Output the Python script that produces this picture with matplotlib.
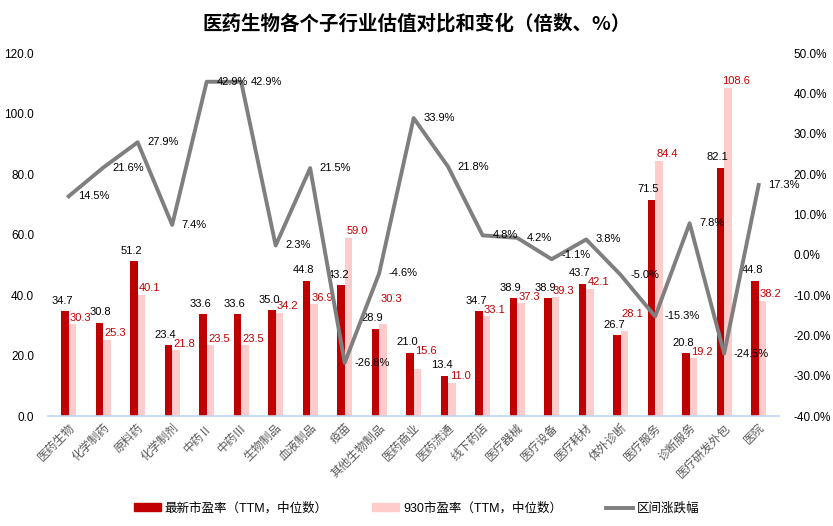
import numpy as np
import matplotlib
matplotlib.use("Agg")
import matplotlib.pyplot as plt
from matplotlib.patches import Patch
from matplotlib.lines import Line2D
from matplotlib.ticker import FuncFormatter

plt.rcParams['font.family'] = ['Liberation Sans', 'Noto Sans CJK SC', 'DejaVu Sans']

# data
categories = ['医药生物', '化学制药', '原料药', '化学制剂', '中药Ⅱ', '中药Ⅲ', '生物制品',
              '血液制品', '疫苗', '其他生物制品', '医药商业', '医药流通', '线下药店',
              '医疗器械', '医疗设备', '医疗耗材', '体外诊断', '医疗服务', '诊断服务',
              '医疗研发外包', '医院']
pe_latest = [34.7, 30.8, 51.2, 23.4, 33.6, 33.6, 35.0, 44.8, 43.2, 28.9, 21.0,
             13.4, 34.7, 38.9, 38.9, 43.7, 26.7, 71.5, 20.8, 82.1, 44.8]
pe_930 = [30.3, 25.3, 40.1, 21.8, 23.5, 23.5, 34.2, 36.9, 59.0, 30.3, 15.6,
          11.0, 33.1, 37.3, 39.3, 42.1, 28.1, 84.4, 19.2, 108.6, 38.2]
change_pct = [14.5, 21.6, 27.9, 7.4, 42.9, 42.9, 2.3, 21.5, -26.8, -4.6, 33.9,
              21.8, 4.8, 4.2, -1.1, 3.8, -5.0, -15.3, 7.8, -24.5, 17.3]

RED = '#C00000'
PINK = '#FFCCCC'
GRAY = '#7F7F7F'

# a few labels sit a bit off in the reference (Excel moved them)
pink_lift = {9: 14, 10: 8, 16: 8}
red_shift = {1: 3}
line_lift = {14: 3}

fig = plt.figure(figsize=(8.33, 5.26), dpi=100)
ax = fig.add_axes([0.0576, 0.209, 0.878, 0.69])
ax2 = ax.twinx()

x = np.arange(len(categories))
w = 0.22
ax.bar(x - w / 2, pe_latest, w, color=RED, zorder=2)
ax.bar(x + w / 2, pe_930, w, color=PINK, zorder=2)

for i, (xi, v) in enumerate(zip(x, pe_latest)):
    ax.annotate(f'{v:.1f}', (xi - w / 2, v), xytext=(-2 + red_shift.get(i, 0), 4),
                textcoords='offset points', ha='center', va='bottom', fontsize=8,
                color='black')
for i, (xi, v) in enumerate(zip(x, pe_930)):
    ax.annotate(f'{v:.1f}', (xi + w / 2, v), xytext=(6, 1 + pink_lift.get(i, 0)),
                textcoords='offset points', ha='center', va='bottom', fontsize=8,
                color=RED)

ax.set_ylim(0, 120)
ax.set_yticks(np.arange(0, 121, 20))
ax.yaxis.set_major_formatter(FuncFormatter(lambda v, p: f'{v:.1f}'))
ax.set_xlim(-0.6, len(categories) - 0.4)
ax.set_xticks(x)
ax.set_xticklabels(categories, rotation=45, ha='right', rotation_mode='anchor',
                   fontsize=10, color='#595959')

ax2.plot(x, change_pct, color=GRAY, lw=2.8, zorder=3)
for i, (xi, v) in enumerate(zip(x, change_pct)):
    ax2.annotate(f'{v:.1f}%', (xi, v), xytext=(7, line_lift.get(i, 0)),
                 textcoords='offset points', ha='left', va='center', fontsize=8,
                 color='black')
ax2.set_ylim(-40, 50)
ax2.set_yticks(np.arange(-40, 51, 10))
ax2.yaxis.set_major_formatter(FuncFormatter(lambda v, p: f'{v:.1f}%'))

for a in (ax, ax2):
    for s in ('top', 'left', 'right'):
        a.spines[s].set_visible(False)
    a.spines['bottom'].set_color('#BDD7EE')
    a.tick_params(length=0, labelsize=8.5)
ax.spines['bottom'].set_linewidth(1.2)
ax2.spines['bottom'].set_visible(False)
ax.tick_params(axis='y', pad=10)
ax2.tick_params(axis='y', pad=10)
ax.tick_params(axis='x', pad=4)

fig.suptitle('医药生物各个子行业估值对比和变化（倍数、%）', y=0.975, fontsize=14,
             fontweight='bold', family=['Noto Sans CJK SC'])

handles = [Patch(color=RED), Patch(color=PINK), Line2D([], [], color=GRAY, lw=2.8)]
labels = ['最新市盈率（TTM，中位数）', '930市盈率（TTM，中位数）', '区间涨跌幅']
fig.legend(handles, labels, loc='lower center', bbox_to_anchor=(0.5, 0.0), ncol=3,
           frameon=False, fontsize=9, handlelength=2.2, handleheight=0.6,
           columnspacing=3.5, handletextpad=0.3)

fig.savefig('out.png', dpi=100)
